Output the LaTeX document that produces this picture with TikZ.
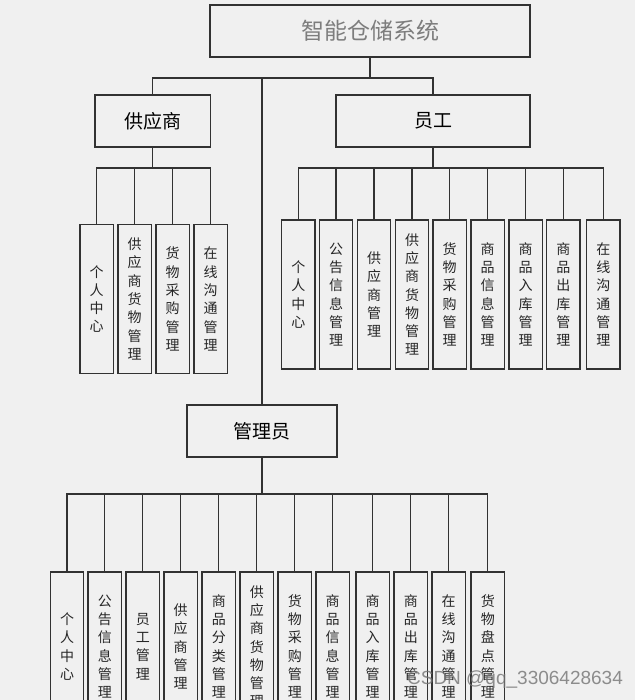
\documentclass[tikz,border=0pt]{standalone}
\usepackage{fontspec}
\newfontfamily\cjkfont{Noto Sans CJK SC}
\newfontfamily\wmfont{Liberation Sans}
\definecolor{bgcol}{RGB}{240,240,240}
\definecolor{linecol}{RGB}{50,50,50}
\definecolor{titlecol}{RGB}{125,125,125}
\begin{document}
\begin{tikzpicture}[
  x=1pt, y=-1pt,
  line width=1.3pt,
  line cap=butt, line join=miter,
  box/.style={draw=linecol, fill=bgcol, inner sep=0pt, minimum height=52pt,
    font=\cjkfont\fontsize{19pt}{19pt}\selectfont},
  leaf/.style={draw=linecol, fill=bgcol, inner sep=0pt, minimum width=33.5pt,
    minimum height=149pt, align=center, text=black!85,
    font=\cjkfont\fontsize{14pt}{18.3pt}\selectfont},
  wire/.style={draw=linecol}
]
  % ---- 画布 ----
  \path[use as bounding box, fill=bgcol] (0,0) rectangle (635,700);
  \clip (0,0) rectangle (635,700);
  % ---- 顶层与二级框 ----
  \node[box, minimum width=320pt, text=titlecol,
    font=\cjkfont\fontsize{23pt}{23pt}\selectfont] (root) at (370,31) {智能仓储系统};
  \node[box, minimum width=115.6pt] (sup) at (152.8,121) {供应商};
  \node[box, minimum width=194pt] (emp) at (433,121) {员工};
  \node[box, minimum width=150pt] (adm) at (262,431) {管理员};
  % ---- 汇流点 ----
  \coordinate (rootbus) at (370,78);
  \coordinate (supbus) at (152.8,168);
  \coordinate (empbus) at (433,168);
  \coordinate (admbus) at (262,494);
  % ---- 供应商功能 ----
  \node[leaf] (s1) at ( 96.7,299) {个\\人\\中\\心};
  \node[leaf] (s2) at (134.7,299) {供\\应\\商\\货\\物\\管\\理};
  \node[leaf] (s3) at (172.7,299) {货\\物\\采\\购\\管\\理};
  \node[leaf] (s4) at (210.7,299) {在\\线\\沟\\通\\管\\理};
  % ---- 员工功能 ----
  \node[leaf] (e1) at (298.3,294.5) {个\\人\\中\\心};
  \node[leaf] (e2) at (336.0,294.5) {公\\告\\信\\息\\管\\理};
  \node[leaf] (e3) at (374.0,294.5) {供\\应\\商\\管\\理};
  \node[leaf] (e4) at (412.0,294.5) {供\\应\\商\\货\\物\\管\\理};
  \node[leaf] (e5) at (449.7,294.5) {货\\物\\采\\购\\管\\理};
  \node[leaf] (e6) at (487.7,294.5) {商\\品\\信\\息\\管\\理};
  \node[leaf] (e7) at (525.7,294.5) {商\\品\\入\\库\\管\\理};
  \node[leaf] (e8) at (563.3,294.5) {商\\品\\出\\库\\管\\理};
  \node[leaf] (e9) at (603.3,294.5) {在\\线\\沟\\通\\管\\理};
  % ---- 管理员功能（底部被裁切） ----
  \node[leaf] (a1)  at ( 67.0,646.5) {个\\人\\中\\心};
  \node[leaf] (a2)  at (104.8,646.5) {公\\告\\信\\息\\管\\理};
  \node[leaf] (a3)  at (142.8,646.5) {员\\工\\管\\理};
  \node[leaf] (a4)  at (180.7,646.5) {供\\应\\商\\管\\理};
  \node[leaf] (a5)  at (218.8,646.5) {商\\品\\分\\类\\管\\理};
  \node[leaf] (a6)  at (256.8,646.5) {供\\应\\商\\货\\物\\管\\理};
  \node[leaf] (a7)  at (294.8,646.5) {货\\物\\采\\购\\管\\理};
  \node[leaf] (a8)  at (332.7,646.5) {商\\品\\信\\息\\管\\理};
  \node[leaf] (a9)  at (372.7,646.5) {商\\品\\入\\库\\管\\理};
  \node[leaf] (a10) at (410.8,646.5) {商\\品\\出\\库\\管\\理};
  \node[leaf] (a11) at (448.7,646.5) {在\\线\\沟\\通\\管\\理};
  \node[leaf] (a12) at (487.8,646.5) {货\\物\\盘\\点\\管\\理};
  % ---- 连线：顶层 ----
  \draw[wire] (root.south) -- (rootbus);
  \draw[wire] (sup.north) |- (rootbus);
  \draw[wire] (emp.north) |- (rootbus);
  \draw[wire] (adm.north) |- (rootbus);
  % ---- 连线：供应商 ----
  \draw[wire] (sup.south) -- (supbus);
  \draw[wire] (s1.north) |- (supbus);
  \draw[wire] (s2.north) |- (supbus);
  \draw[wire] (s3.north) |- (supbus);
  \draw[wire] (s4.north) |- (supbus);
  % ---- 连线：员工 ----
  \draw[wire] (emp.south) -- (empbus);
  \draw[wire] (e1.north) |- (empbus);
  \draw[wire] (e2.north) |- (empbus);
  \draw[wire] (e3.north) |- (empbus);
  \draw[wire] (e4.north) |- (empbus);
  \draw[wire] (e5.north) |- (empbus);
  \draw[wire] (e6.north) |- (empbus);
  \draw[wire] (e7.north) |- (empbus);
  \draw[wire] (e8.north) |- (empbus);
  \draw[wire] (e9.north) |- (empbus);
  % ---- 连线：管理员 ----
  \draw[wire] (adm.south) -- (admbus);
  \draw[wire] (a1.north) |- (admbus);
  \draw[wire] (a2.north) |- (admbus);
  \draw[wire] (a3.north) |- (admbus);
  \draw[wire] (a4.north) |- (admbus);
  \draw[wire] (a5.north) |- (admbus);
  \draw[wire] (a6.north) |- (admbus);
  \draw[wire] (a7.north) |- (admbus);
  \draw[wire] (a8.north) |- (admbus);
  \draw[wire] (a9.north) |- (admbus);
  \draw[wire] (a10.north) |- (admbus);
  \draw[wire] (a11.north) |- (admbus);
  \draw[wire] (a12.north) |- (admbus);
  % ---- 水印 ----
  \node[inner sep=0pt, text=black!55, opacity=0.8,
    font=\wmfont\fontsize{19pt}{19pt}\selectfont] (wm) at (515,680) {CSDN @qq\_3306428634};
\end{tikzpicture}
\end{document}
